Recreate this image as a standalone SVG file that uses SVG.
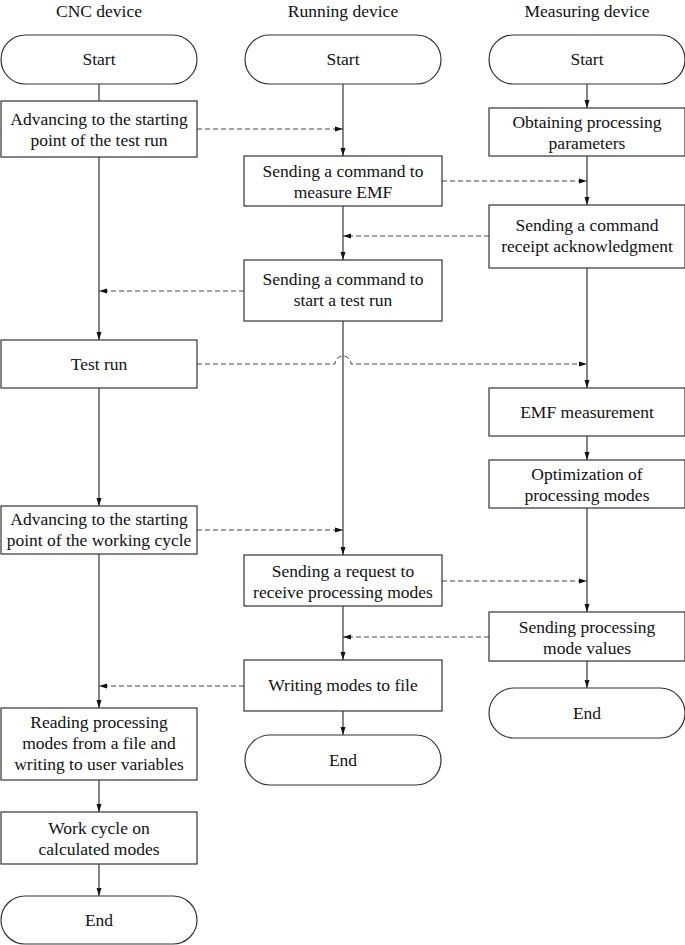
<svg xmlns="http://www.w3.org/2000/svg" width="685" height="945" viewBox="0 0 685 945">
<style>
.b{fill:#fff;stroke:#333;stroke-width:1.2}
.t{font-family:'Liberation Serif','Times New Roman','DejaVu Serif',serif;font-size:17.5px;fill:#111;text-anchor:middle}
.v{stroke:#222;stroke-width:1.1;fill:none}
.d{stroke:#444;stroke-width:1;stroke-dasharray:5,3;fill:none}
</style>
<defs><marker id="a" markerWidth="8" markerHeight="6" refX="8" refY="3" orient="auto" markerUnits="userSpaceOnUse"><path d="M0,0.5 L8,3 L0,5.5Z" fill="#111"/></marker></defs>
<rect width="685" height="945" fill="#fff"/>
<text class="t" x="99" y="17">CNC device</text>
<text class="t" x="343" y="17">Running device</text>
<text class="t" x="587" y="17">Measuring device</text>
<g id="connectors">
<path class="v" d="M99,84V101"/>
<path class="v" d="M343,84V156" marker-end="url(#a)"/>
<path class="v" d="M343,206V260" marker-end="url(#a)"/>
<path class="v" d="M343,321V555" marker-end="url(#a)"/>
<path class="v" d="M343,606V660" marker-end="url(#a)"/>
<path class="v" d="M343,711V735" marker-end="url(#a)"/>
<path class="v" d="M99,388V506" marker-end="url(#a)"/>
<path class="v" d="M99,554V708" marker-end="url(#a)"/>
<path class="v" d="M99,780V812" marker-end="url(#a)"/>
<path class="v" d="M99,864V896" marker-end="url(#a)"/>
<path class="v" d="M99,157V340" marker-end="url(#a)"/>
<path class="v" d="M587,84V108" marker-end="url(#a)"/>
<path class="v" d="M587,156V205" marker-end="url(#a)"/>
<path class="v" d="M587,268V388" marker-end="url(#a)"/>
<path class="v" d="M587,436V460" marker-end="url(#a)"/>
<path class="v" d="M587,508V612" marker-end="url(#a)"/>
<path class="v" d="M587,661V688" marker-end="url(#a)"/>
<path class="d" d="M197,129H343" marker-end="url(#a)"/>
<path class="d" d="M442,181H587" marker-end="url(#a)"/>
<path class="d" d="M489,236H343" marker-end="url(#a)"/>
<path class="d" d="M244,291H99" marker-end="url(#a)"/>
<path class="d" d="M197,364H335A8,8 0 0 1 351,364H587" marker-end="url(#a)"/>
<path class="d" d="M197,530H343" marker-end="url(#a)"/>
<path class="d" d="M442,581H587" marker-end="url(#a)"/>
<path class="d" d="M489,637H343" marker-end="url(#a)"/>
<path class="d" d="M244,686H99" marker-end="url(#a)"/>
</g>
<g id="c_start"><rect class="b" x="1" y="35" width="196" height="49" rx="24.5"/><text class="t" x="99" y="65">Start</text></g>
<g id="c_adv1"><rect class="b" x="1" y="101" width="196" height="56"/><text class="t" x="99" y="125">Advancing to the starting</text><text class="t" x="99" y="146">point of the test run</text></g>
<g id="c_test"><rect class="b" x="1" y="340" width="196" height="48"/><text class="t" x="99" y="370">Test run</text></g>
<g id="c_adv2"><rect class="b" x="1" y="506" width="196" height="48"/><text class="t" x="99" y="525">Advancing to the starting</text><text class="t" x="99" y="546">point of the working cycle</text></g>
<g id="c_read"><rect class="b" x="1" y="708" width="196" height="72"/><text class="t" x="99" y="728">Reading processing</text><text class="t" x="99" y="749">modes from a file and</text><text class="t" x="99" y="770">writing to user variables</text></g>
<g id="c_work"><rect class="b" x="1" y="812" width="196" height="52"/><text class="t" x="99" y="834">Work cycle on</text><text class="t" x="99" y="855">calculated modes</text></g>
<g id="c_end"><rect class="b" x="1" y="896" width="196" height="48" rx="24"/><text class="t" x="99" y="926">End</text></g>
<g id="r_start"><rect class="b" x="245" y="35" width="196" height="49" rx="24.5"/><text class="t" x="343" y="65">Start</text></g>
<g id="r_meas"><rect class="b" x="244" y="156" width="198" height="50"/><text class="t" x="343" y="177">Sending a command to</text><text class="t" x="343" y="198">measure EMF</text></g>
<g id="r_starttest"><rect class="b" x="244" y="260" width="198" height="61"/><text class="t" x="343" y="285">Sending a command to</text><text class="t" x="343" y="306">start a test run</text></g>
<g id="r_req"><rect class="b" x="244" y="555" width="198" height="51"/><text class="t" x="343" y="577">Sending a request to</text><text class="t" x="343" y="598">receive processing modes</text></g>
<g id="r_write"><rect class="b" x="244" y="660" width="198" height="51"/><text class="t" x="343" y="691">Writing modes to file</text></g>
<g id="r_end"><rect class="b" x="245" y="735" width="196" height="50" rx="25"/><text class="t" x="343" y="766">End</text></g>
<g id="m_start"><rect class="b" x="489" y="35" width="196" height="49" rx="24.5"/><text class="t" x="587" y="65">Start</text></g>
<g id="m_obt"><rect class="b" x="489" y="108" width="196" height="48"/><text class="t" x="587" y="128">Obtaining processing</text><text class="t" x="587" y="149">parameters</text></g>
<g id="m_ack"><rect class="b" x="489" y="205" width="196" height="63"/><text class="t" x="587" y="231">Sending a command</text><text class="t" x="587" y="252">receipt acknowledgment</text></g>
<g id="m_emf"><rect class="b" x="489" y="388" width="196" height="48"/><text class="t" x="587" y="418">EMF measurement</text></g>
<g id="m_opt"><rect class="b" x="489" y="460" width="196" height="48"/><text class="t" x="587" y="480">Optimization of</text><text class="t" x="587" y="501">processing modes</text></g>
<g id="m_send"><rect class="b" x="489" y="612" width="196" height="49"/><text class="t" x="587" y="633">Sending processing</text><text class="t" x="587" y="654">mode values</text></g>
<g id="m_end"><rect class="b" x="489" y="688" width="196" height="50" rx="25"/><text class="t" x="587" y="719">End</text></g>
</svg>
